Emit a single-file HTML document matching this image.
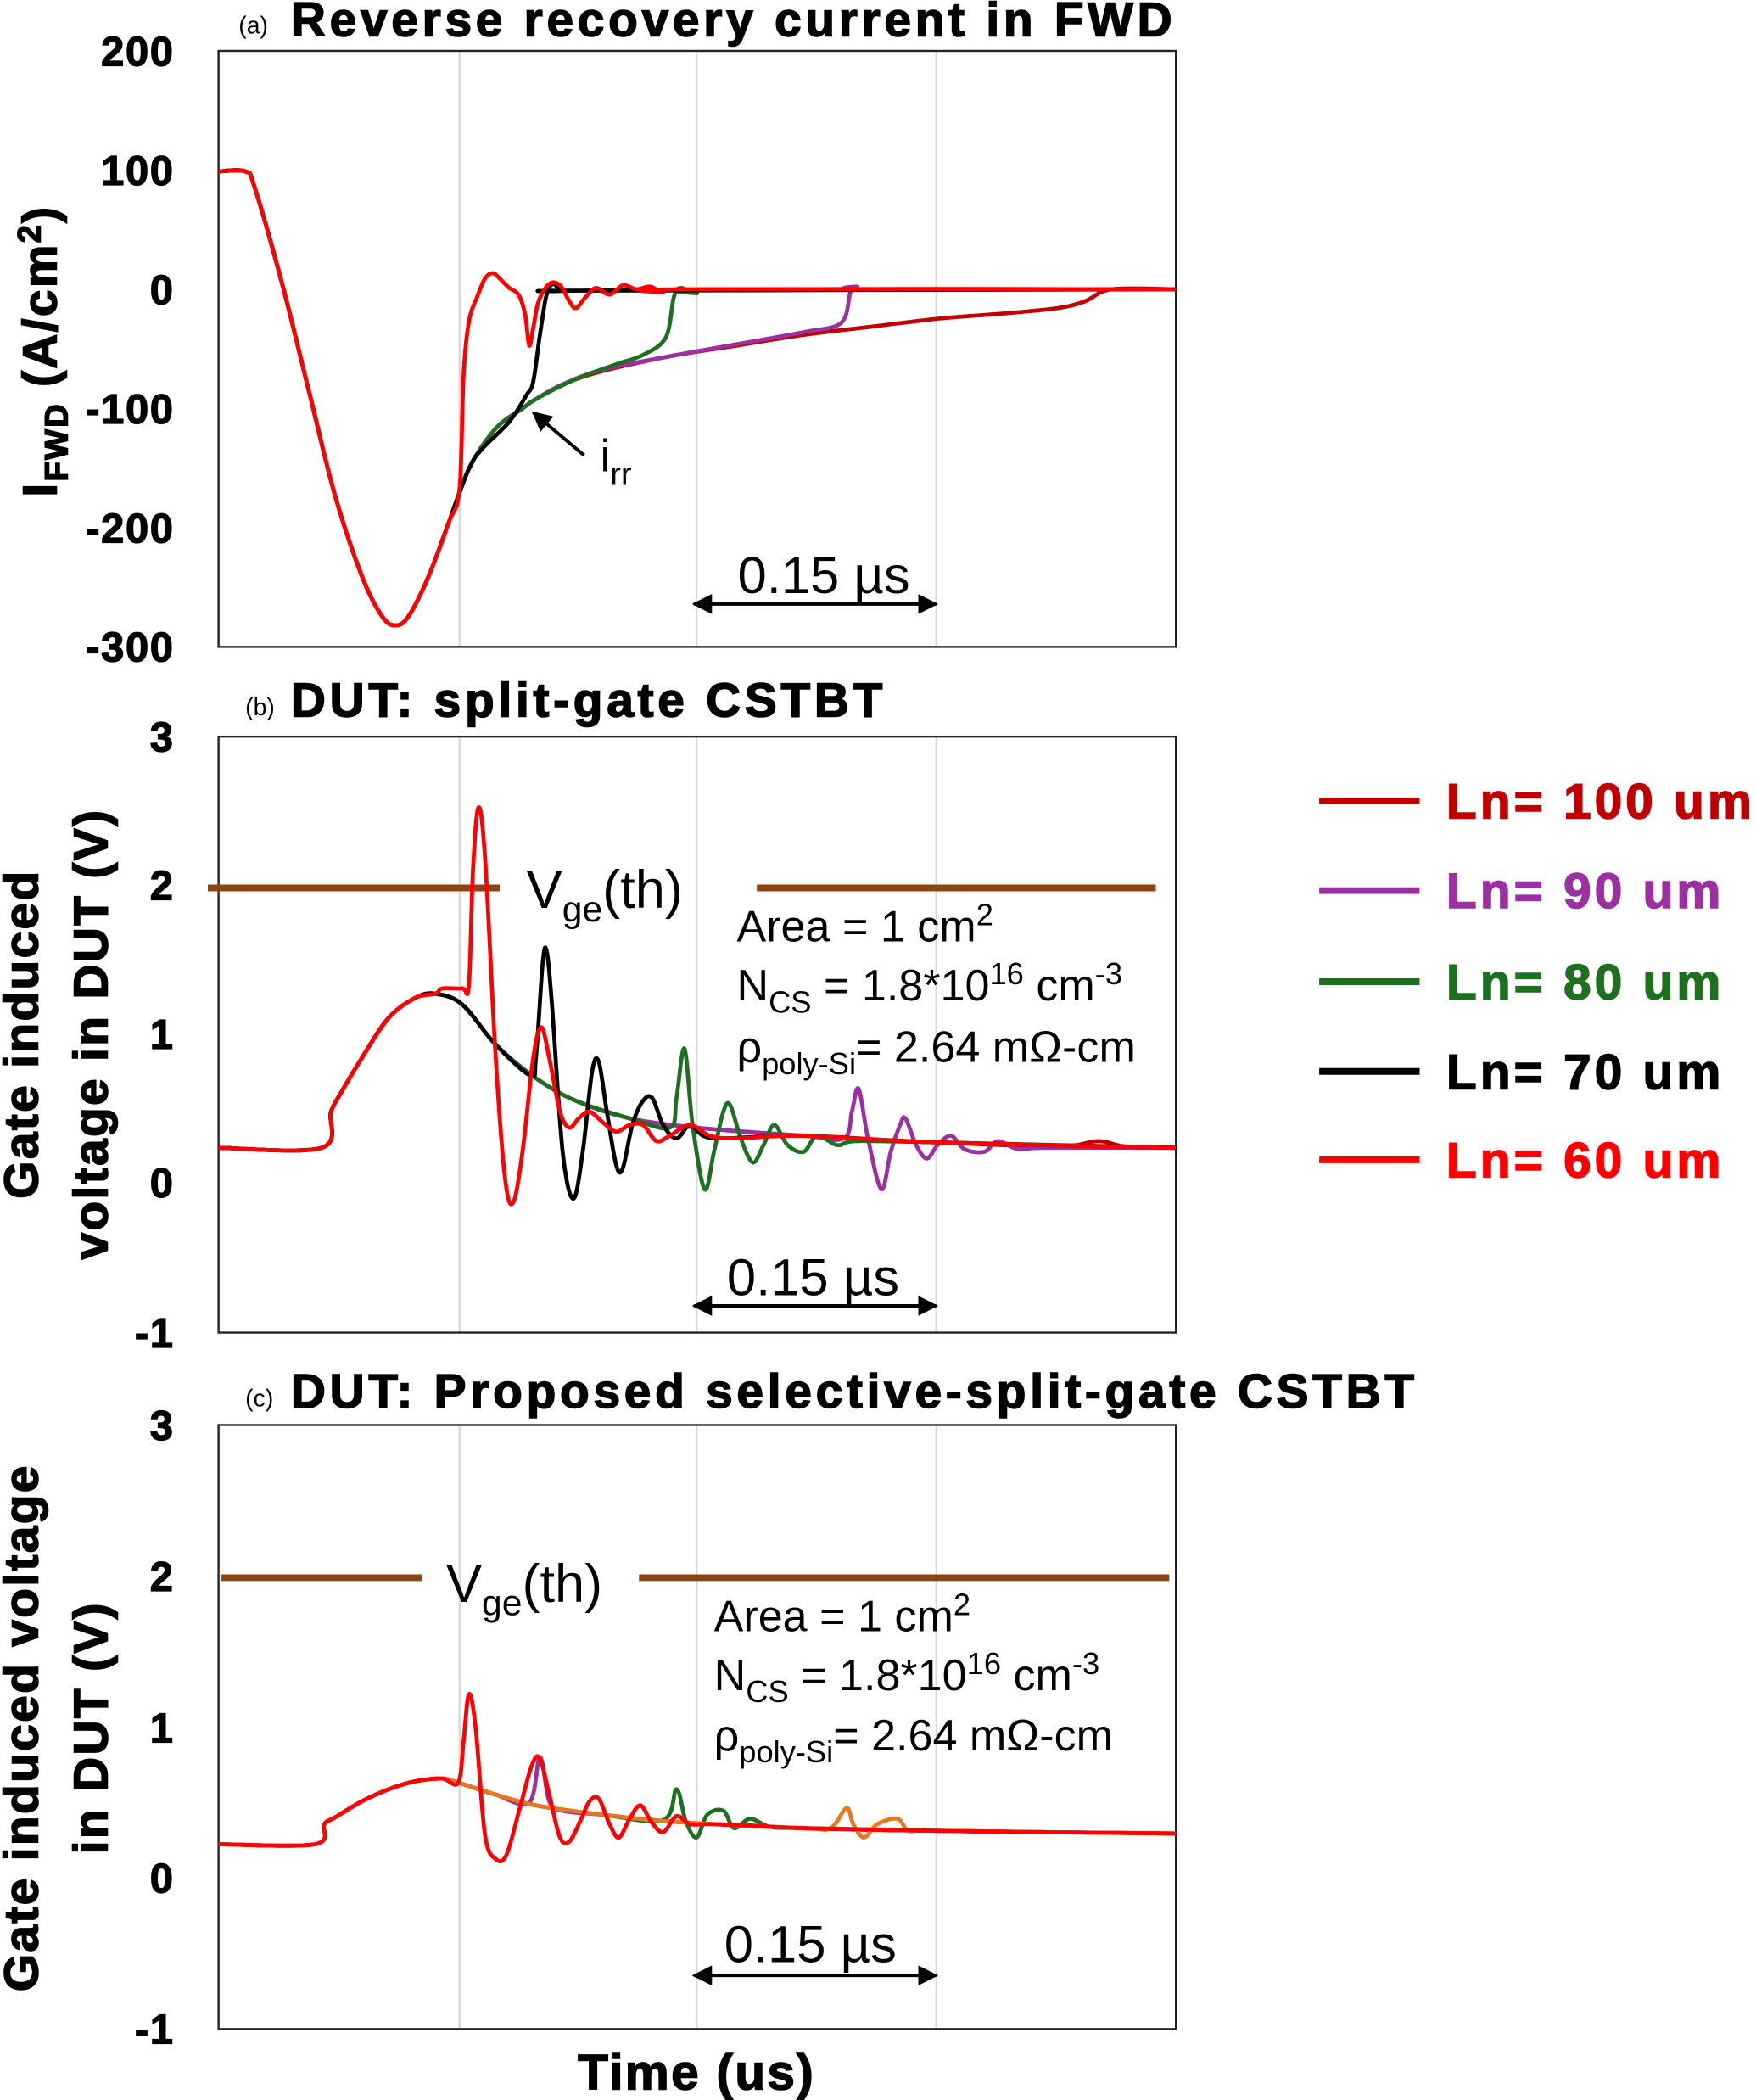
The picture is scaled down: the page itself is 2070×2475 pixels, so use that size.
<!DOCTYPE html>
<html><head><meta charset="utf-8"><style>
html,body{margin:0;padding:0;background:#fff;}
svg{display:block;}
text{font-family:"Liberation Sans",Arial,sans-serif;}
.t{font-weight:bold;font-size:31px;text-anchor:end;stroke:#000;stroke-width:0.8;letter-spacing:1px;}
.h{font-weight:bold;font-size:36px;stroke:#000;stroke-width:1;letter-spacing:3px;}
.y{font-weight:bold;font-size:36px;stroke:#000;stroke-width:1;letter-spacing:1.5px;}
.l{font-weight:bold;font-size:37px;stroke-width:1;letter-spacing:2.6px;}
</style></head><body>
<svg id="s" width="2070" height="2475" viewBox="0 0 1311 1568" xmlns="http://www.w3.org/2000/svg">
<defs><marker id="ar" viewBox="0 0 10 10" refX="9" refY="5" markerWidth="6" markerHeight="6" orient="auto-start-reverse"><path d="M0,0L10,5L0,10z" fill="#000"/></marker></defs>
<g stroke="#d9d9d9" stroke-width="1.5">
<line x1="343" y1="38" x2="343" y2="483"/><line x1="520" y1="38" x2="520" y2="483"/><line x1="699" y1="38" x2="699" y2="483"/>
<line x1="343" y1="550" x2="343" y2="995"/><line x1="520" y1="550" x2="520" y2="995"/><line x1="699" y1="550" x2="699" y2="995"/>
<line x1="343" y1="1064" x2="343" y2="1515"/><line x1="520" y1="1064" x2="520" y2="1515"/><line x1="699" y1="1064" x2="699" y2="1515"/>
</g>
<g fill="none" stroke="#222" stroke-width="1.5">
<rect x="163" y="38" width="715" height="445"/><rect x="163" y="550" width="715" height="445"/><rect x="163" y="1064" width="715" height="451"/>
</g>
<g>
<text x="130" y="49" class="t">200</text><text x="130" y="138" class="t">100</text><text x="130" y="227" class="t">0</text><text x="130" y="316" class="t">-100</text><text x="130" y="405" class="t">-200</text><text x="130" y="494" class="t">-300</text>
<text x="130" y="561" class="t">3</text><text x="130" y="672" class="t">2</text><text x="130" y="783" class="t">1</text><text x="130" y="894" class="t">0</text><text x="130" y="1006" class="t">-1</text>
<text x="130" y="1075" class="t">3</text><text x="130" y="1188" class="t">2</text><text x="130" y="1301" class="t">1</text><text x="130" y="1413" class="t">0</text><text x="130" y="1526" class="t">-1</text>
</g>
<text x="178" y="25" font-size="18">(a)</text><text x="217" y="27" class="h">Reverse recovery current in FWD</text>
<text x="183" y="534" font-size="18">(b)</text><text x="217" y="535" class="h">DUT: split-gate CSTBT</text>
<text x="183" y="1050" font-size="18">(c)</text><text x="217" y="1051" class="h">DUT: Proposed selective-split-gate CSTBT</text>
<text transform="translate(42,262) rotate(-90)" text-anchor="middle" class="y">I<tspan font-size="24" dy="8">FWD</tspan><tspan dy="-8"> (A/cm</tspan><tspan font-size="24" dy="-12">2</tspan><tspan dy="12">)</tspan></text>
<text transform="translate(28,772) rotate(-90)" text-anchor="middle" class="y">Gate induced</text>
<text transform="translate(80,772) rotate(-90)" text-anchor="middle" class="y">voltage in DUT (V)</text>
<text transform="translate(28,1290) rotate(-90)" text-anchor="middle" class="y">Gate induced voltage</text>
<text transform="translate(80,1290) rotate(-90)" text-anchor="middle" class="y">in DUT (V)</text>
<text x="520" y="1560" text-anchor="middle" class="y" style="font-size:37px">Time (us)</text>
<g stroke="#8b4513" stroke-width="5"><line x1="155" y1="663" x2="373" y2="663"/><line x1="565" y1="663" x2="863" y2="663"/><line x1="165" y1="1178" x2="315" y2="1178"/><line x1="477" y1="1178" x2="873" y2="1178"/></g>
<g font-size="40"><text x="393" y="678">V<tspan font-size="27" dy="10">ge</tspan><tspan dy="-10">(th)</tspan></text>
<text x="333" y="1196">V<tspan font-size="27" dy="10">ge</tspan><tspan dy="-10">(th)</tspan></text></g>
<g font-size="33">
<text x="550" y="703">Area = 1 cm<tspan font-size="23" dy="-12">2</tspan></text>
<text x="550" y="747">N<tspan font-size="23" dy="9">CS</tspan><tspan dy="-9"> = 1.8*10</tspan><tspan font-size="23" dy="-12">16</tspan><tspan dy="12"> cm</tspan><tspan font-size="23" dy="-12">-3</tspan></text>
<text x="550" y="793">ρ<tspan font-size="23" dy="9">poly-Si</tspan><tspan dy="-9">= 2.64 mΩ-cm</tspan></text>
<text x="533" y="1218">Area = 1 cm<tspan font-size="23" dy="-12">2</tspan></text>
<text x="533" y="1262">N<tspan font-size="23" dy="9">CS</tspan><tspan dy="-9"> = 1.8*10</tspan><tspan font-size="23" dy="-12">16</tspan><tspan dy="12"> cm</tspan><tspan font-size="23" dy="-12">-3</tspan></text>
<text x="533" y="1307">ρ<tspan font-size="23" dy="9">poly-Si</tspan><tspan dy="-9">= 2.64 mΩ-cm</tspan></text>
</g>
<g stroke="#000" stroke-width="2.5" marker-start="url(#ar)" marker-end="url(#ar)">
<line x1="518" y1="451" x2="699" y2="451"/><line x1="518" y1="975" x2="699" y2="975"/><line x1="518" y1="1475" x2="699" y2="1475"/>
</g>
<g font-size="39" text-anchor="middle"><text x="615" y="443">0.15 µs</text><text x="607" y="967">0.15 µs</text><text x="605" y="1465">0.15 µs</text></g>
<line x1="436" y1="340" x2="398" y2="308" stroke="#000" stroke-width="2.5" marker-end="url(#ar)"/>
<text x="448" y="352" font-size="34">i<tspan font-size="24" dy="10">rr</tspan></text>
<g stroke-width="5"><line x1="985" y1="598" x2="1060" y2="598" stroke="#c00000"/><line x1="985" y1="665" x2="1060" y2="665" stroke="#9b30a0"/><line x1="985" y1="733" x2="1060" y2="733" stroke="#1e7020"/><line x1="985" y1="800" x2="1060" y2="800" stroke="#000"/><line x1="985" y1="866" x2="1060" y2="866" stroke="#ff0000"/></g>
<g><text x="1080" y="611" class="l" fill="#c00000" stroke="#c00000">Ln= 100 um</text><text x="1080" y="678" class="l" fill="#9b30a0" stroke="#9b30a0">Ln= 90 um</text><text x="1080" y="746" class="l" fill="#1e7020" stroke="#1e7020">Ln= 80 um</text><text x="1080" y="813" class="l" fill="#000" stroke="#000">Ln= 70 um</text><text x="1080" y="879" class="l" fill="#ff0000" stroke="#ff0000">Ln= 60 um</text></g>
<g id="curves" fill="none" stroke-width="3" stroke-linejoin="round"></g>
</svg>
<script>
function cr(p){var d="M"+p[0][0]+","+p[0][1];for(var i=0;i<p.length-1;i++){var a=p[i-1]||p[i],b=p[i],c=p[i+1],e=p[i+2]||c;d+="C"+(b[0]+(c[0]-a[0])/6).toFixed(1)+","+(b[1]+(c[1]-a[1])/6).toFixed(1)+" "+(c[0]-(e[0]-b[0])/6).toFixed(1)+","+(c[1]-(e[1]-b[1])/6).toFixed(1)+" "+c[0]+","+c[1];}return d;}
function merge(base,pts){var x0=pts[0][0],x1=pts[pts.length-1][0];return base.filter(function(q){return q[0]<x0;}).concat(pts).concat(base.filter(function(q){return q[0]>x1;}));}
var g=document.getElementById("curves");
function add(p,c){var e=document.createElementNS("http://www.w3.org/2000/svg","path");e.setAttribute("d",cr(p));e.setAttribute("stroke",c);g.appendChild(e);}
var C={dr:"#c00000",pu:"#9b30a0",gr:"#1e7020",bk:"#000",rd:"#ff0000",or:"#e87722"};
var A=[[163,128],[183,128],[190,140],[210,210],[230,290],[250,370],[270,430],[285,460],[295,467],[305,460],[320,430],[335,390],[350,350],[370,320],[390,305],[400,298]];
add(A.concat([[420,287],[450,277],[500,266],[550,258],[600,250],[650,244],[700,238],[750,234],[790,230],[810,225],[830,216],[878,216]]),C.dr);
add(A.concat([[420,287],[450,276],[500,266],[550,257],[600,248],[628,241],[635,218],[640,214],[650,216],[878,216]]),C.pu);
add(A.concat([[430,283],[460,272],[480,265],[497,252],[503,222],[508,215],[520,219],[535,216],[878,216]]),C.gr);
add(A.slice(0,13).concat([[360,335],[380,315],[393,295],[398,285],[403,250],[408,220],[413,212],[420,217],[440,217],[878,216]]),C.bk);
add(A.slice(0,12).concat([[343,365],[346,280],[350,240],[356,222],[362,208],[368,204],[375,210],[380,215],[387,220],[392,235],[395,258],[398,245],[402,225],[410,212],[418,213],[425,225],[430,230],[437,222],[445,215],[455,220],[465,213],[475,216],[485,214],[495,218],[510,216],[878,216]]),C.rd);
var B=[[163,857],[240,857],[247,830],[255,815],[270,790],[290,760],[310,745],[325,742],[345,750],[370,780],[400,805],[430,822],[470,835],[520,842],[600,848],[700,853],[878,857]];
add(merge(B,[[790,856],[820,852],[840,856]]),C.dr);
add(merge(B,[[630,850],[636,830],[641,813],[648,850],[658,888],[665,860],[672,840],[676,835],[684,855],[692,865],[700,855],[710,848],[720,858],[735,860],[745,852],[760,858],[780,857]]),C.pu);
add(merge(B,[[500,842],[505,820],[511,783],[517,840],[526,888],[533,860],[540,830],[545,825],[553,850],[562,868],[570,855],[578,840],[588,855],[600,860],[610,848],[625,855],[640,852]]),C.gr);
add(merge(B,[[396,803],[400,790],[405,720],[408,710],[412,750],[420,860],[428,895],[435,860],[442,800],[447,793],[453,830],[460,870],[465,872],[472,840],[480,822],[487,820],[495,840],[505,850],[515,840],[525,848],[540,850]]),C.bk);
add(merge(B,[[330,738],[345,738],[350,735],[353,650],[357,603],[362,640],[370,790],[377,880],[383,898],[390,860],[398,790],[404,767],[410,790],[418,830],[425,842],[432,835],[440,830],[450,838],[460,845],[470,840],[480,840],[490,852],[500,848],[515,840],[530,848],[550,850]]),C.rd);
var Cc=[[163,1377],[235,1377],[242,1362],[250,1357],[270,1345],[290,1336],[310,1330],[330,1328],[345,1332],[370,1340],[400,1348],[450,1355],[500,1360],[600,1365],[700,1367],[878,1369]];
add(Cc,C.dr);
add(merge(Cc,[[395,1346],[403,1312],[410,1345],[420,1352]]),C.pu);
add(merge(Cc,[[495,1359],[505,1336],[512,1360],[520,1372],[528,1355],[540,1352],[548,1365],[560,1358],[575,1364]]),C.gr);
add(merge(Cc,[[620,1365],[632,1350],[637,1362],[645,1372],[655,1362],[670,1358],[678,1367],[690,1366]]),C.or);
add(merge(Cc,[[342,1331],[346,1300],[350,1265],[355,1290],[362,1370],[370,1388],[378,1385],[388,1350],[397,1318],[403,1313],[410,1340],[418,1372],[425,1375],[433,1360],[440,1345],[447,1343],[455,1362],[462,1372],[470,1358],[478,1348],[486,1360],[495,1368],[505,1356],[515,1362],[530,1362],[560,1363]]),C.rd);
</script>
</body></html>
